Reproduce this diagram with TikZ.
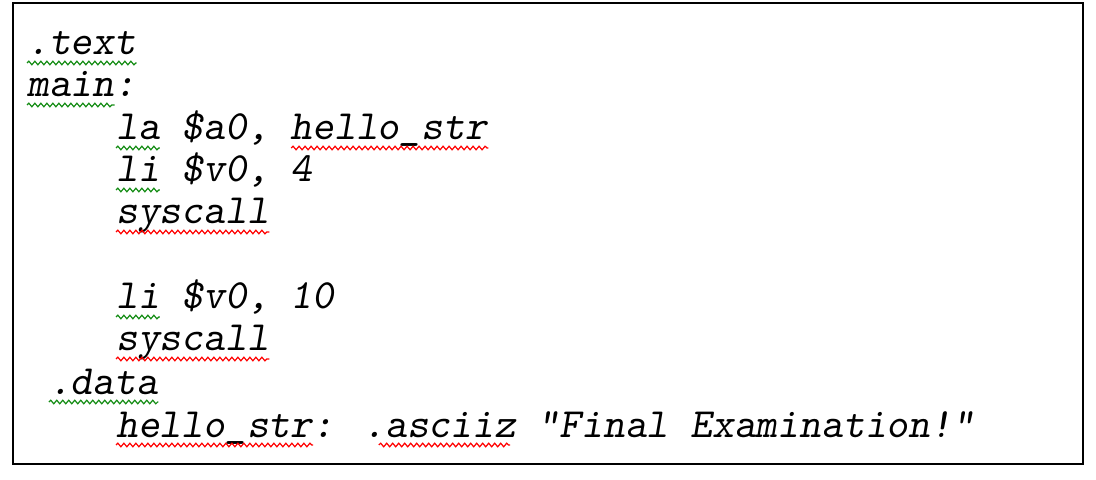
\documentclass[tikz,border=0pt]{standalone}
\usepackage{fontspec}
\usetikzlibrary{decorations.pathmorphing}
\def\cw{21.9}
\tikzset{
  code/.style={anchor=base west,inner sep=0pt,font=\ttfamily\slshape\fontsize{41.7}{44}\selectfont},
  sq/.style={line width=1.2bp,decorate,decoration={snake,segment length=6bp,amplitude=1.8bp}},
  sqg/.style={sq,draw={rgb,255:red,20;green,140;blue,20}},
  sqr/.style={sq,draw=red},
}
% #1 style, #2 line node, #3 first char, #4 last char
\newcommand\squig[4]{\draw[#1] ([xshift=#3*\cw bp,yshift=-8bp]#2.base west) -- ([xshift=#4*\cw bp,yshift=-8bp]#2.base west);}
\begin{document}
\begin{tikzpicture}[x=1bp,y=-1bp]
\useasboundingbox (0,0) rectangle (1096,480);
\draw[line width=1.3bp] (13,3) rectangle (1083,464);
\node[code] (l1) at (27,55) {.text};
\node[code] (l2) at (27,97) {main:};
\node[code] (l3) at (116,140) {la \$a0, hello\_str};
\node[code] (l4) at (116,182) {li \$v0, 4};
\node[code] (l5) at (116,224) {syscall};
\node[code] (l6) at (116,309) {li \$v0, 10};
\node[code] (l7) at (116,351) {syscall};
\node[code] (l8) at (27,394) {\ .data};
\node[code] (l9) at (116,437) {hello\_str: .asciiz \symbol{34}Final Examination!\symbol{34}};
\squig{sqg}{l1}{0}{5}
\squig{sqg}{l2}{0}{4}
\squig{sqg}{l3}{0}{2}
\squig{sqr}{l3}{8}{17}
\squig{sqg}{l4}{0}{2}
\squig{sqr}{l5}{0}{7}
\squig{sqg}{l6}{0}{2}
\squig{sqr}{l7}{0}{7}
\squig{sqg}{l8}{1}{6}
\squig{sqr}{l9}{0}{9}
\squig{sqr}{l9}{12}{18}
\end{tikzpicture}
\end{document}
